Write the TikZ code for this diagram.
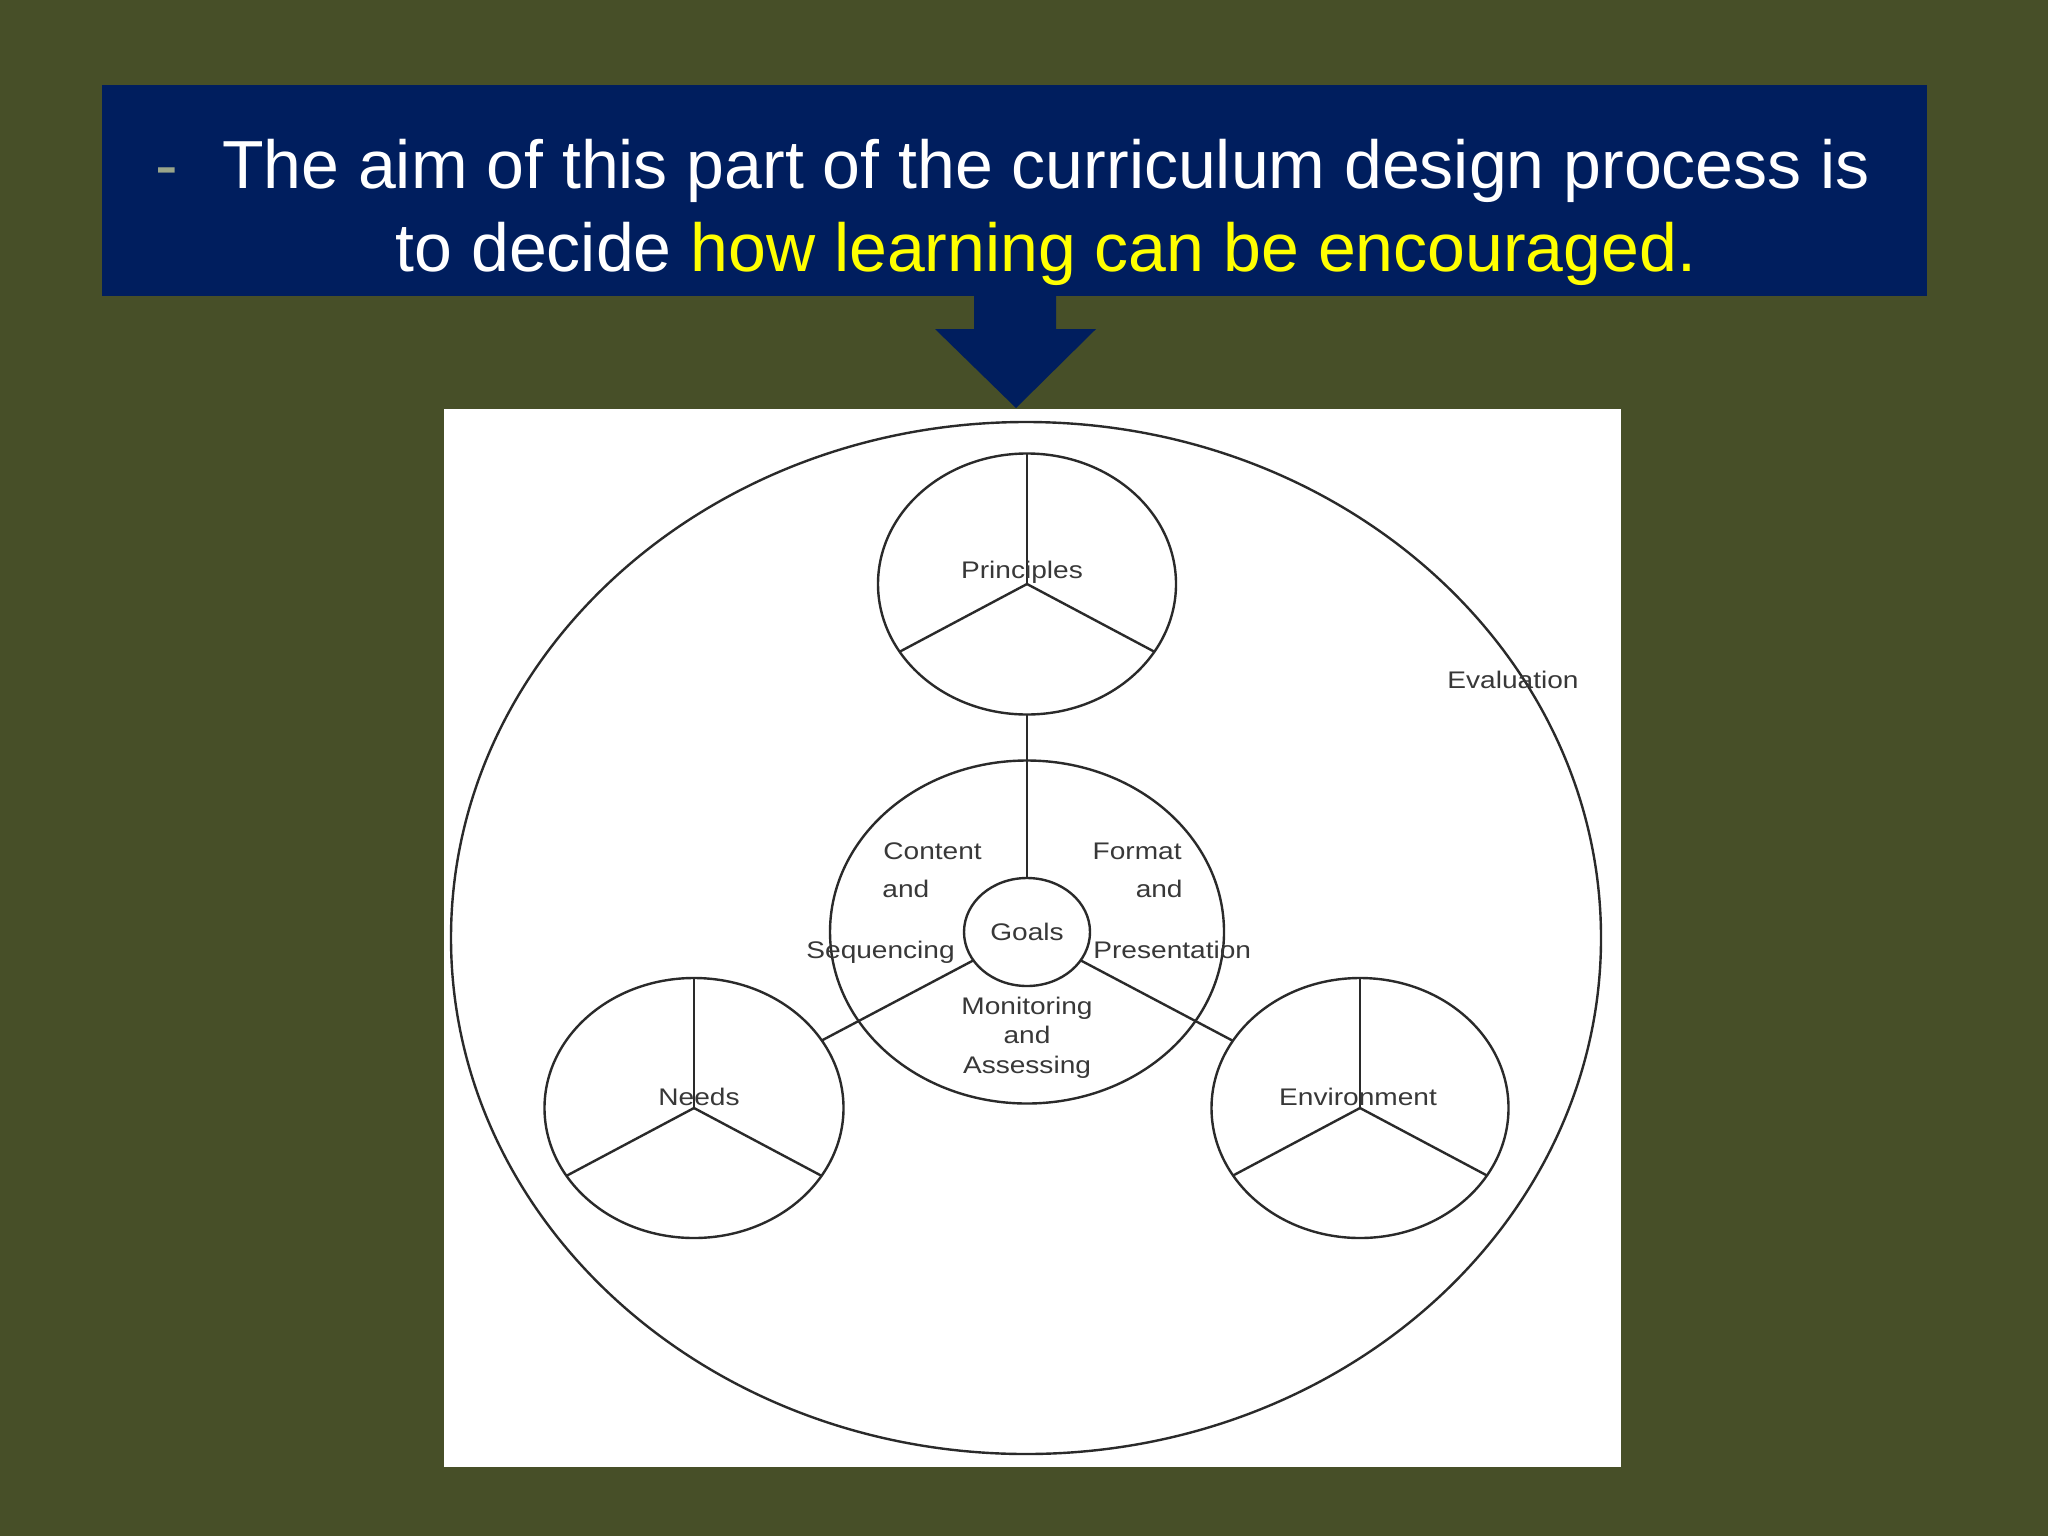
\documentclass[tikz,border=0pt]{standalone}
\usepackage{fontspec}
\setmainfont{Liberation Sans}
\newfontfamily\diagfont[FakeStretch=1.17]{Liberation Sans}
\usetikzlibrary{shapes.geometric}
\definecolor{bgc}{HTML}{474F28}
\definecolor{navy}{HTML}{001E5E}
\definecolor{hl}{HTML}{FFFF00}
\definecolor{dashc}{HTML}{9AA58A}
\definecolor{linec}{HTML}{2A2A2A}
\definecolor{textc}{HTML}{383838}
\tikzset{
  circ/.style={draw=linec, line width=1.2pt, ellipse, inner sep=0pt, outer sep=0pt},
  spoke/.style={draw=linec, line width=1.2pt},
  lbl/.style={font=\diagfont\fontsize{12}{14}\selectfont, text=textc, inner sep=0pt},
  titletext/.style={font=\fontsize{34}{40}\selectfont, text=white, inner sep=0pt, anchor=base}
}
\begin{document}
\begin{tikzpicture}[x=0.5pt, y=-0.5pt]
\fill[bgc] (0,0) rectangle (2048,1536);
\useasboundingbox (0,0) rectangle (2048,1536);
% banner
\fill[navy] (102,85) rectangle (1927,296);
\node[titletext] (t1) at (1046,188) {The aim of this part of the curriculum design process is};
\node[titletext] (t2) at (1046,271) {to decide \textcolor{hl}{how learning can be encouraged.}};
\node[titletext, text=dashc] (bul) at (167,188) {-};
% arrow
\fill[navy] (974,295) -- (974,329) -- (935,329) -- (1016,408) -- (1096,329) -- (1056,329) -- (1056,295) -- cycle;
% white panel
\fill[white] (444,409) rectangle (1621,1467);
% circles
\node[circ, minimum width=575pt, minimum height=516pt] (eval) at (1026,938) {};
\node[circ, minimum width=149pt, minimum height=130.5pt] (prin) at (1027,584) {};
\node[circ, minimum width=197pt, minimum height=171.5pt] (mid) at (1027,932) {};
\node[circ, minimum width=63pt, minimum height=54pt] (goals) at (1027,932) {};
\node[circ, minimum width=149.5pt, minimum height=130pt] (needs) at (694,1108) {};
\node[circ, minimum width=148.5pt, minimum height=130pt] (env) at (1360,1108) {};
% spokes
\foreach \c in {prin,needs,env}{
  \draw[spoke] (\c.center) -- (\c.90);
  \draw[spoke] (\c.center) -- (\c.208);
  \draw[spoke] (\c.center) -- (\c.332);
}
\draw[spoke] (prin.south) -- (goals.north);
\draw[spoke] (goals) -- (needs);
\draw[spoke] (goals) -- (env);
% labels
\node[lbl, anchor=base] (lprin) at (1022,578) {Principles};
\node[lbl, anchor=base] (lneeds) at (699,1105) {Needs};
\node[lbl, anchor=base] (lenv) at (1358,1105) {Environment};
\node[lbl, anchor=base] (leval) at (1513,688) {Evaluation};
\node[lbl, anchor=base] (lgoals) at (1027,940) {Goals};
\node[lbl, anchor=base west] (lc1) at (883,859) {Content};
\node[lbl, anchor=base west] (lc2) at (882,897) {and};
\node[lbl, anchor=base west] (lc3) at (806,958) {Sequencing};
\node[lbl, anchor=base east] (lf1) at (1182,859) {Format};
\node[lbl, anchor=base east] (lf2) at (1183,897) {and};
\node[lbl, anchor=base west] (lf3) at (1093,958) {Presentation};
\node[lbl, anchor=base] (lm1) at (1027,1014) {Monitoring};
\node[lbl, anchor=base] (lm2) at (1027,1043) {and};
\node[lbl, anchor=base] (lm3) at (1027,1073) {Assessing};
\end{tikzpicture}
\end{document}
